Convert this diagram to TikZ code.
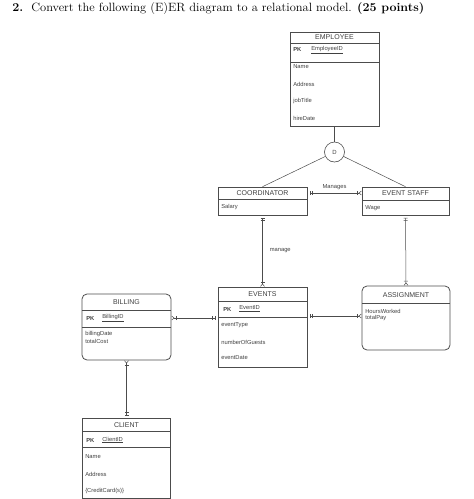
\documentclass[tikz,border=0pt]{standalone}
\usepackage{fontspec}
\newfontfamily\diafont{Liberation Sans}
\usetikzlibrary{arrows.meta}
\tikzset{
  onlyone/.tip={Bar[width=4pt,sep=2pt]Bar[width=4pt,sep=2.5pt]},
  onemany/.tip={Bar[width=4pt,sep=1pt]Straight Barb[reversed,length=2.5pt,width=4pt]},
}
\begin{document}
\begin{tikzpicture}[x=1pt,y=-1pt,line width=0.6pt,
  box/.style={draw=black!70,inner sep=0pt},
  ttl/.style={font=\diafont\fontsize{7}{8}\selectfont,text=black!75,inner sep=0pt},
  att/.style={font=\diafont\fontsize{5.8}{6.5}\selectfont,text=black!75,inner sep=0pt,anchor=west},
  link/.style={draw=black!70,line width=0.5pt}]
\useasboundingbox (0,0) rectangle (474,499);
% task text
\node[anchor=west,inner sep=0pt] (task) at (12,9)
  {\resizebox{412pt}{9pt}{\fontsize{12}{14}\selectfont\textbf{2.}\ \ Convert the following (E)ER diagram to a relational model. \textbf{(25 points)}}};
% EMPLOYEE
\node[box,minimum width=89pt,minimum height=94pt] (employee) at (334.5,79) {};
\draw[black!70] (290,43) -- (379,43) (290,62) -- (379,62);
\node[ttl] (employeet) at (334.5,37.5) {EMPLOYEE};
\node[att] (employeepk) at (293,50) {\bfseries PK};
\node[att] (employeeid) at (311,50) {\underline{EmployeeID}};
\foreach \t/\y [count=\i] in {Name/67,Address/84,jobTitle/101,hireDate/118}
  \node[att] (employee\i) at (293,\y) {\t};
% disjoint
\node[draw=black!70,circle,minimum size=20pt,inner sep=0pt,font=\diafont\fontsize{6}{7}\selectfont,text=black!75] (d) at (334.5,152) {D};
% COORDINATOR
\node[box,minimum width=89pt,minimum height=28pt] (coord) at (262.5,201) {};
\draw[black!70] (218,199) -- (307,199);
\node[ttl] (coordt) at (262.5,193) {COORDINATOR};
\node[att] (coord1) at (221,207) {Salary};
% EVENT STAFF
\node[box,minimum width=87pt,minimum height=28pt] (estaff) at (405.5,201) {};
\draw[black!70] (362,200) -- (449,200);
\node[ttl] (estafft) at (405.5,193) {EVENT STAFF};
\node[att] (estaff1) at (365,208) {Wage};
% EVENTS
\node[box,minimum width=89pt,minimum height=80pt] (events) at (262.5,327) {};
\draw[black!70] (218,301) -- (307,301) (218,317) -- (307,317);
\node[ttl] (eventst) at (262.5,294) {EVENTS};
\node[att] (eventspk) at (223,309) {\bfseries PK};
\node[att] (eventsid) at (239,309) {\underline{EventID}};
\foreach \t/\y [count=\i] in {eventType/325,numberOfGuests/342,eventDate/358}
  \node[att] (events\i) at (221,\y) {\t};
% ASSIGNMENT
\node[box,rounded corners=5pt,line width=0.8pt,minimum width=88pt,minimum height=64pt] (assign) at (406,318) {};
\draw[black!70,line width=0.8pt] (362,303) -- (450,303);
\node[ttl] (assignt) at (406,295) {ASSIGNMENT};
\node[att] (assign1) at (365,311) {HoursWorked};
\node[att] (assign2) at (365,318) {totalPay};
% BILLING
\node[box,rounded corners=5pt,line width=0.8pt,minimum width=89pt,minimum height=66pt] (billing) at (126.5,327) {};
\draw[black!70,line width=0.8pt] (82,310) -- (171,310);
\draw[black!70] (82,327) -- (171,327);
\node[ttl] (billingt) at (126.5,302) {BILLING};
\node[att] (billingpk) at (86,318) {\bfseries PK};
\node[att] (billingid) at (102,318) {\underline{BillingID}};
\node[att] (billing1) at (85,334) {billingDate};
\node[att] (billing2) at (85,341) {totalCost};
% CLIENT
\node[box,minimum width=88pt,minimum height=80pt] (client) at (126.5,458) {};
\draw[black!70] (82.5,431) -- (170.5,431) (82.5,447) -- (170.5,447);
\node[ttl] (clientt) at (126.5,425) {CLIENT};
\node[att] (clientpk) at (86,440) {\bfseries PK};
\node[att] (clientid) at (102,440) {\underline{ClientID}};
\foreach \t/\y [count=\i] in {Name/457,Address/474,\{CreditCard(s)\}/491}
  \node[att] (client\i) at (85,\y) {\t};
% connectors
\draw[link] (employee.south) -- (d.north);
\draw[link] (d) -- (coord.north);
\draw[link] (d) -- (estaff.north);
\draw[link,onlyone-onemany] (coordt -| coord.east) -- (coordt -| estaff.west)
  node[midway,above=3pt,att,anchor=south] (managesl) {Manages};
\draw[link,onlyone-onemany] (coord.south) -- (events.north)
  node[midway,att,xshift=7pt] (managel) {manage};
\draw[link,onlyone-onemany] (estaff.south) -- (assign.north);
\draw[link,onlyone-onemany] ([yshift=11pt]events.east) -- ([yshift=11pt]events.east -| assign.west);
\draw[link,onlyone-onemany] ([yshift=9pt]events.west) -- ([yshift=9pt]billing.east);
\draw[link,onemany-onlyone] (billing.south) -- (client.north);
\end{tikzpicture}
\end{document}
